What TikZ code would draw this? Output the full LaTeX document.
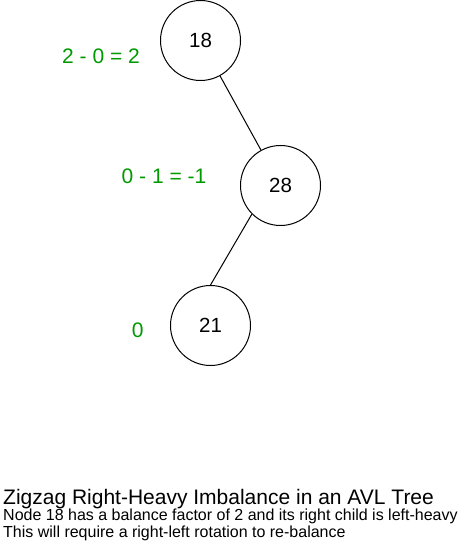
\documentclass[tikz,border=0pt]{standalone}
\usepackage{fontspec}
\setmainfont{Liberation Sans}
\usetikzlibrary{positioning}
\definecolor{bfgreen}{HTML}{009900}

\begin{document}
\begin{tikzpicture}[%
        x=1pt, y=-1pt,
        on grid,
        vertex/.style={circle, draw, line width=1pt, minimum size=80pt, inner sep=0pt, font=\fontsize{20.5}{24}\selectfont},
        bf/.style={text=bfgreen, inner sep=0pt, font=\fontsize{21}{25}\selectfont},
        caption/.style={anchor=base west, inner sep=0pt}
        ]
        \useasboundingbox (0,0) rectangle (471,545);

        \node[vertex] (18) at (200.5,40.5) {18};
        \node[vertex] (28) [below right=145pt and 80pt of 18] {28};
        \node[vertex] (21) [below left=140pt and 70pt of 28] {21};

        \draw[line width=1pt] (18) -- (28);
        \draw[line width=1pt] (28.south west) -- (21.north);

        % balance factors
        \node[bf] (bf18) [below left=15.5pt and 99.5pt of 18] {2 - 0 = 2};
        \node[bf] (bf28) [above left=9.5pt and 116.5pt of 28] {0 - 1 = -1};
        \node[bf] (bf21) [below left=5pt and 72.8pt of 21] {0};

        % caption
        \node[caption, font=\fontsize{21}{25}\selectfont] (title) at (3,504) {Zigzag Right-Heavy Imbalance in an AVL Tree};
        \node[caption, font=\fontsize{16}{19}\selectfont] (line1) at (3,520.5) {Node 18 has a balance factor of 2 and its right child is left-heavy};
        \node[caption, font=\fontsize{16}{19}\selectfont] (line2) at (3,537.5) {This will require a right-left rotation to re-balance};
\end{tikzpicture}
\end{document}
